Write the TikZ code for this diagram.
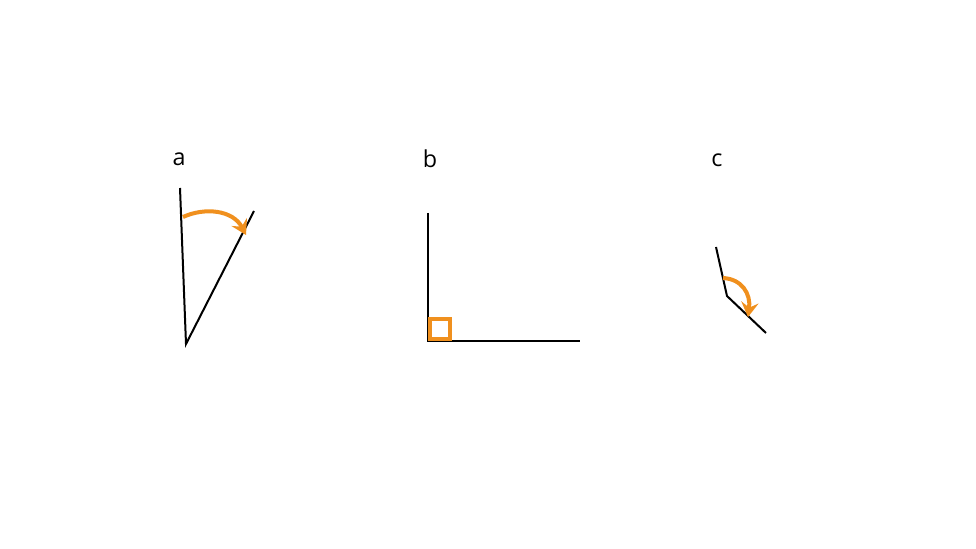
\documentclass[tikz,border=0pt]{standalone}
\usepackage{fontspec}
\setmainfont{Open Sans}
\usetikzlibrary{arrows.meta}
\definecolor{org}{HTML}{F0901E}
\tikzset{
  ray/.style={line width=1.5pt, black},
  turn/.style={line width=3pt, org, -{Stealth[length=11pt,width=13pt,inset=4pt]}},
  lab/.style={font=\fontsize{17.5}{21}\selectfont, inner sep=0pt}
}
\begin{document}
\begin{tikzpicture}[x=0.75pt,y=-0.75pt]
\useasboundingbox (0,0) rectangle (976,549);
% labels
\node[lab] (la) at (179,159) {a};
\node[lab] (lb) at (430,159) {b};
\node[lab] (lc) at (717,160) {c};
% angle a
\coordinate (a1) at (180,188);
\coordinate (a0) at (186,344);
\coordinate (a2) at (254,211);
\draw[ray] (a1) -- (a0) -- (a2);
\coordinate (as) at (183,217);
\coordinate (ae) at (246,235);
\draw[turn] (as) .. controls (205,207) and (233,210) .. (ae);
% angle b
\coordinate (b1) at (428,213);
\coordinate (b0) at (428,341);
\coordinate (b2) at (580,341);
\draw[ray] (b1) -- (b0) -- (b2);
\draw[line width=3pt, org] (429.5,319.5) rectangle (449.5,339.5);
% angle c
\coordinate (c1) at (716,247);
\coordinate (c0) at (727,296);
\coordinate (c2) at (766,333);
\draw[ray] (c1) -- (c0) -- (c2);
\coordinate (cs) at (723,278);
\coordinate (ce) at (748,317);
\draw[turn] (cs) .. controls (742,279) and (751,294) .. (ce);
\end{tikzpicture}
\end{document}
